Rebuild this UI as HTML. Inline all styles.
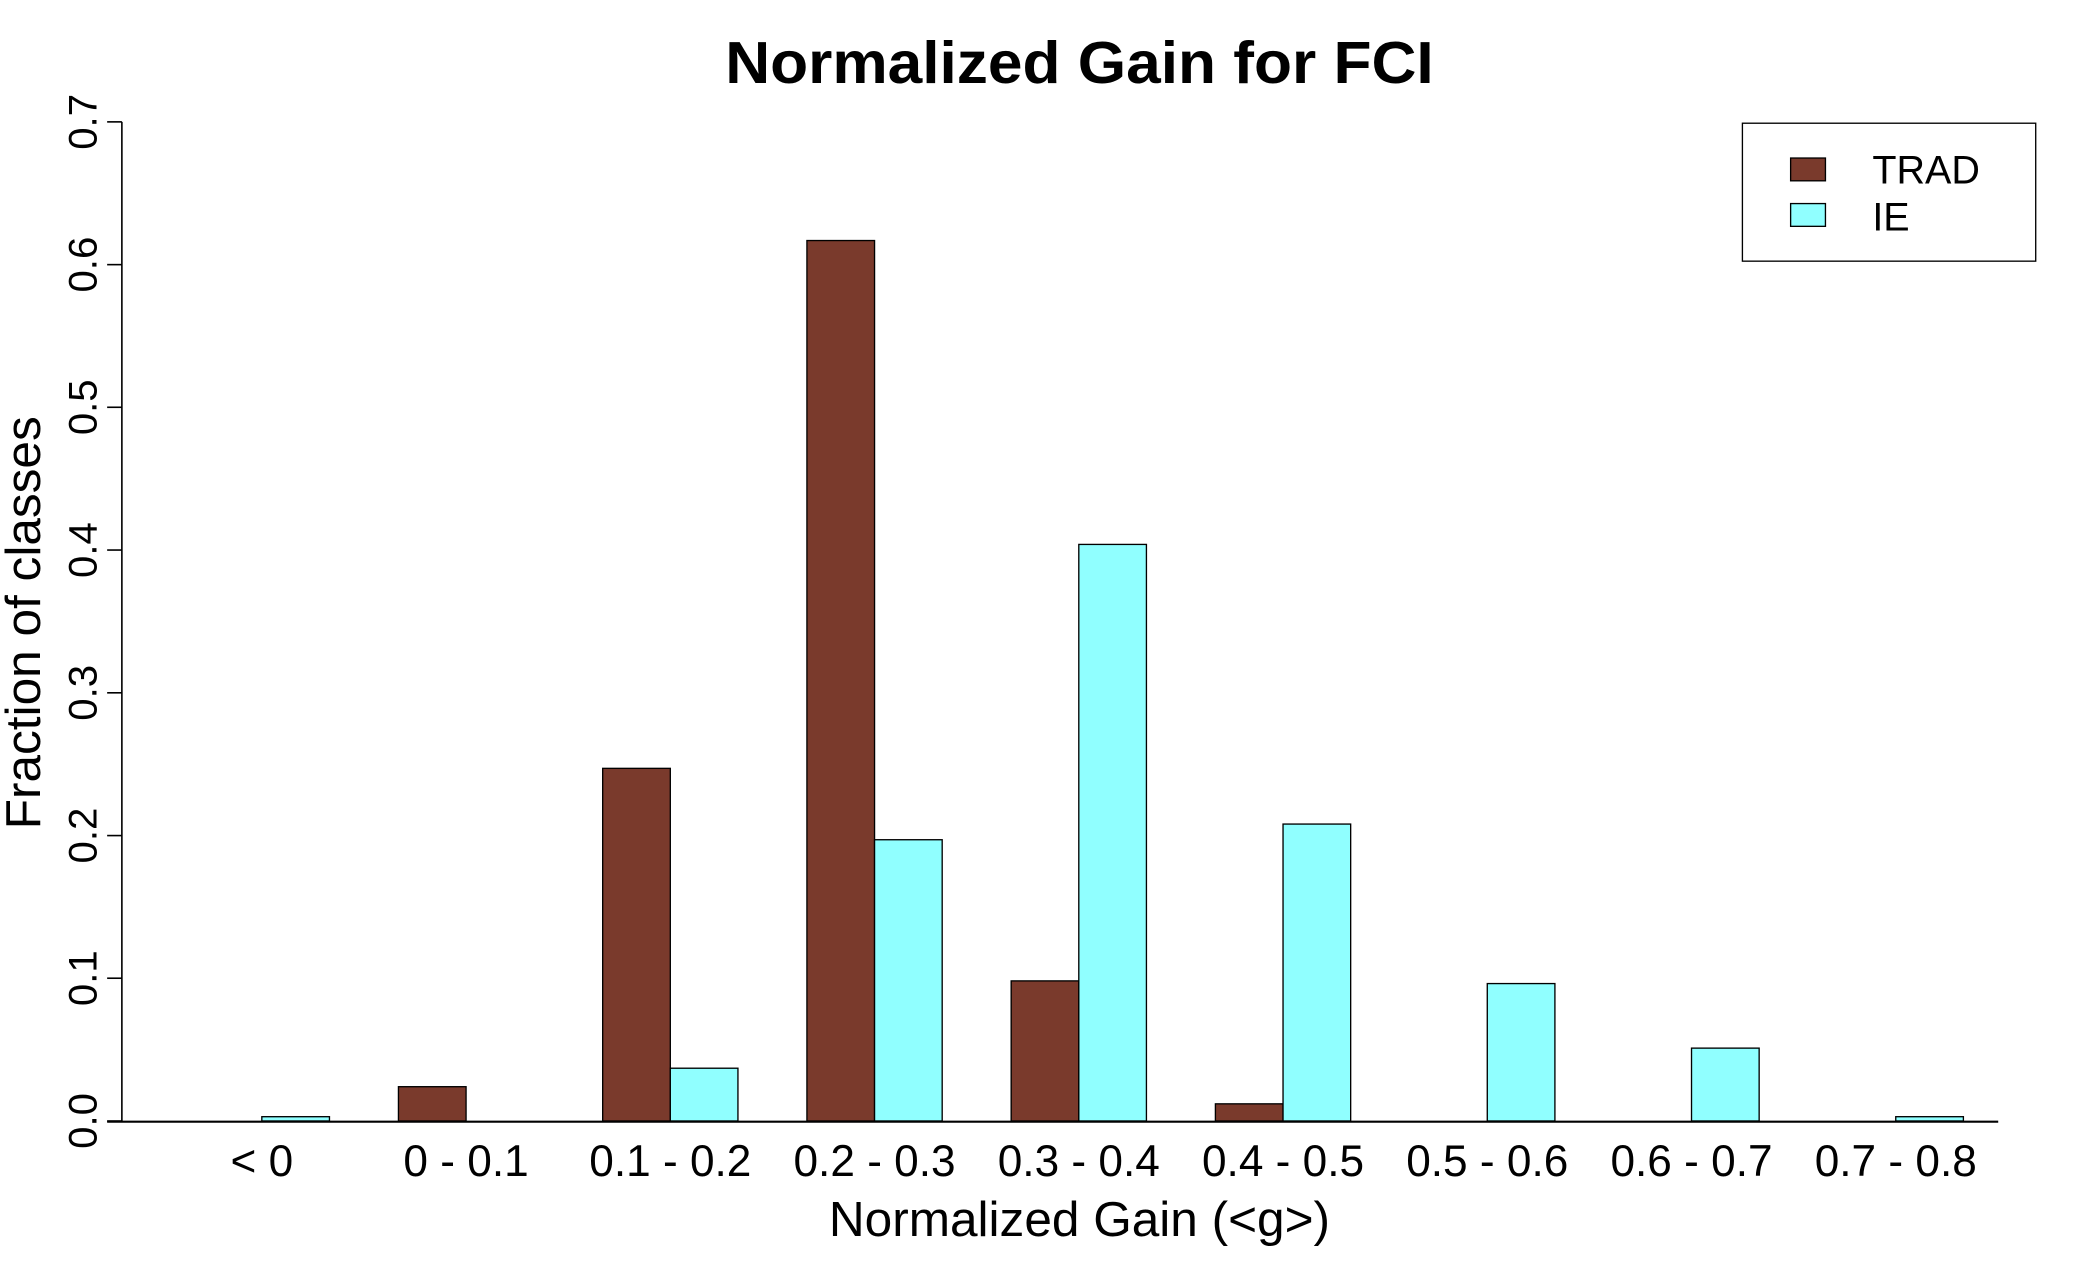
<!DOCTYPE html>
<html><head><meta charset="utf-8"><style>
html,body{margin:0;padding:0;background:#fff;}
svg{display:block;}
text{font-family:"Liberation Sans",sans-serif;fill:#000;}
</style></head><body>
<svg width="2100" height="1275" viewBox="0 0 1568 952" preserveAspectRatio="none" xmlns="http://www.w3.org/2000/svg">
<rect width="1568" height="952" fill="#fff"/>
<text x="806" y="62" font-size="44" font-weight="bold" text-anchor="middle" textLength="529" lengthAdjust="spacingAndGlyphs">Normalized Gain for FCI</text>
<g stroke="#000" stroke-width="1.2">
<line x1="91" y1="91" x2="91" y2="837"/>
<line x1="80" y1="837" x2="91" y2="837"/>
<line x1="80" y1="730.4" x2="91" y2="730.4"/>
<line x1="80" y1="623.9" x2="91" y2="623.9"/>
<line x1="80" y1="517.3" x2="91" y2="517.3"/>
<line x1="80" y1="410.7" x2="91" y2="410.7"/>
<line x1="80" y1="304.1" x2="91" y2="304.1"/>
<line x1="80" y1="197.6" x2="91" y2="197.6"/>
<line x1="80" y1="91" x2="91" y2="91"/>
<line x1="80" y1="837.5" x2="1492" y2="837.5" stroke-width="1.6"/>
</g>
<g font-size="30" text-anchor="middle">
<text transform="translate(72,837) rotate(-90)">0.0</text>
<text transform="translate(72,730.4) rotate(-90)">0.1</text>
<text transform="translate(72,623.9) rotate(-90)">0.2</text>
<text transform="translate(72,517.3) rotate(-90)">0.3</text>
<text transform="translate(72,410.7) rotate(-90)">0.4</text>
<text transform="translate(72,304.1) rotate(-90)">0.5</text>
<text transform="translate(72,197.6) rotate(-90)">0.6</text>
<text transform="translate(72,91) rotate(-90)">0.7</text>
</g>
<text transform="translate(30,465) rotate(-90)" font-size="37" text-anchor="middle">Fraction of classes</text>
<g stroke="#000" stroke-width="1">
<rect x="145" y="837" width="50.5" height="0" fill="#7a3a2c"/>
<rect x="195.5" y="833.8" width="50.5" height="3.2" fill="#90ffff"/>
<rect x="297.5" y="811.4" width="50.5" height="25.6" fill="#7a3a2c"/>
<rect x="450" y="573.7" width="50.5" height="263.3" fill="#7a3a2c"/>
<rect x="500.5" y="797.6" width="50.5" height="39.4" fill="#90ffff"/>
<rect x="602.5" y="179.6" width="50.5" height="657.4" fill="#7a3a2c"/>
<rect x="653" y="627" width="50.5" height="210" fill="#90ffff"/>
<rect x="755" y="732.4" width="50.5" height="104.6" fill="#7a3a2c"/>
<rect x="805.5" y="406.5" width="50.5" height="430.5" fill="#90ffff"/>
<rect x="907.5" y="824.2" width="50.5" height="12.8" fill="#7a3a2c"/>
<rect x="958" y="615.3" width="50.5" height="221.7" fill="#90ffff"/>
<rect x="1110.5" y="734.4" width="50.5" height="102.6" fill="#90ffff"/>
<rect x="1263" y="782.6" width="50.5" height="54.4" fill="#90ffff"/>
<rect x="1415.5" y="833.8" width="50.5" height="3.2" fill="#90ffff"/>
</g>
<g font-size="33" text-anchor="middle">
<text x="195.5" y="878">&lt; 0</text>
<text x="348" y="878">0 - 0.1</text>
<text x="500.5" y="878">0.1 - 0.2</text>
<text x="653" y="878">0.2 - 0.3</text>
<text x="805.5" y="878">0.3 - 0.4</text>
<text x="958" y="878">0.4 - 0.5</text>
<text x="1110.5" y="878">0.5 - 0.6</text>
<text x="1263" y="878">0.6 - 0.7</text>
<text x="1415.5" y="878">0.7 - 0.8</text>
</g>
<text x="806" y="923" font-size="37" text-anchor="middle">Normalized Gain (&lt;g&gt;)</text>
<rect x="1301" y="92" width="219" height="103" fill="#fff" stroke="#000" stroke-width="1"/>
<rect x="1337" y="118" width="26" height="17" fill="#7a3a2c" stroke="#000" stroke-width="1"/>
<rect x="1337" y="152" width="26" height="17" fill="#90ffff" stroke="#000" stroke-width="1"/>
<text x="1398" y="137" font-size="29.5">TRAD</text>
<text x="1398" y="172" font-size="29.5">IE</text>
</svg>
</body></html>
